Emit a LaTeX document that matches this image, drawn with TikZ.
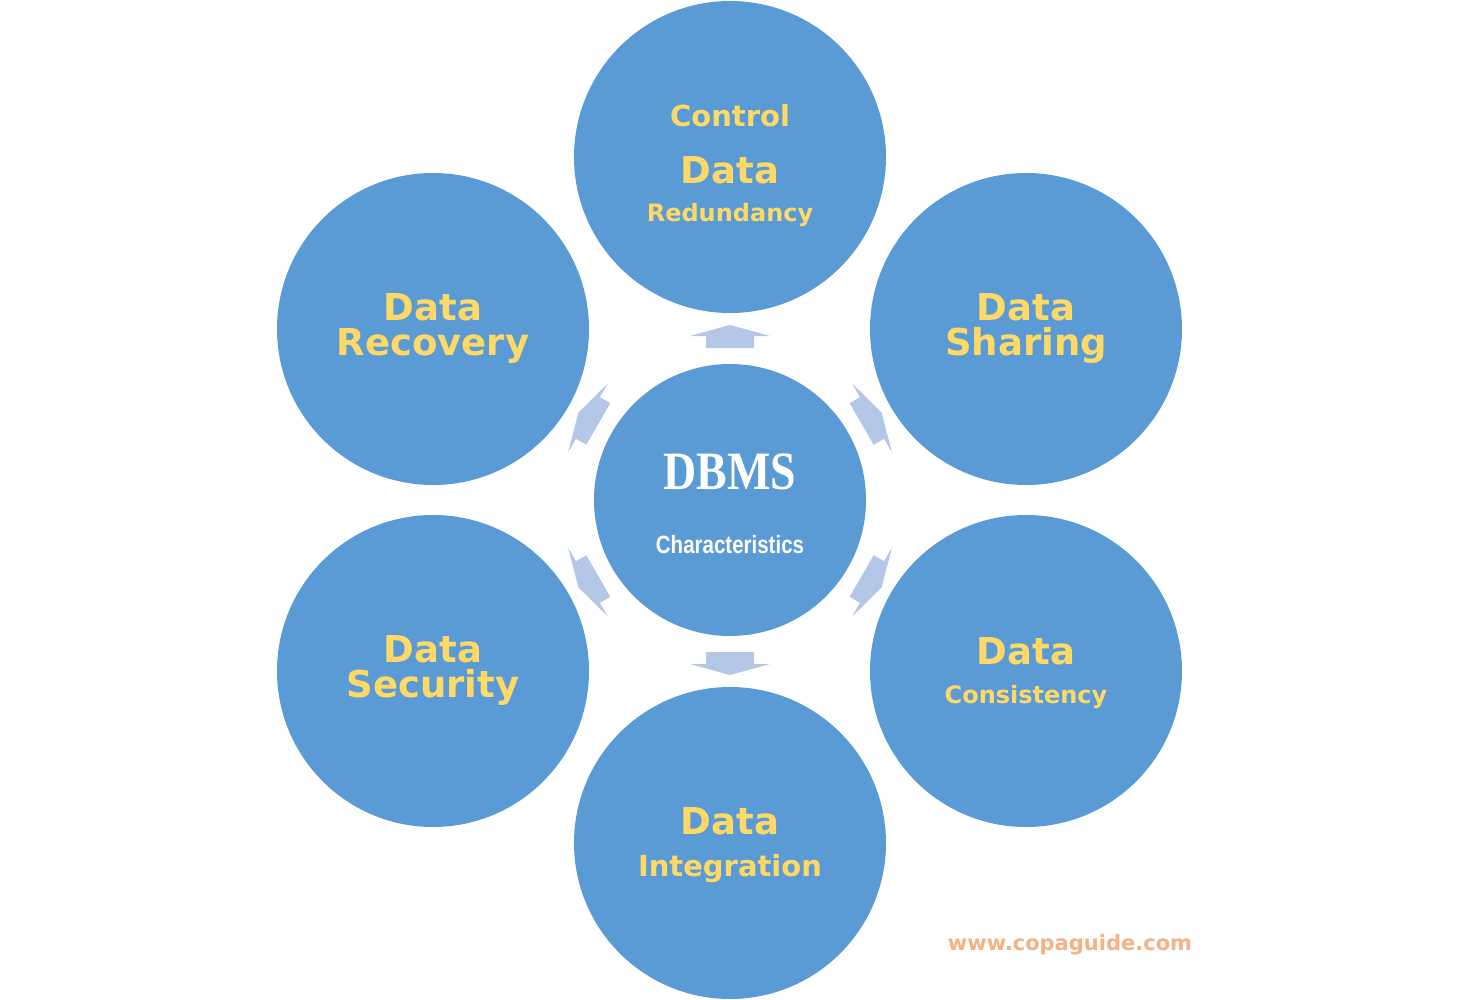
\documentclass[tikz,border=0pt]{standalone}
\usepackage{fontspec}
\setmainfont{DejaVu Sans}
\newfontfamily\serifb{Liberation Serif}
\newfontfamily\narrow{Liberation Sans}
\definecolor{circ}{HTML}{5B9BD5}
\definecolor{ytxt}{HTML}{FFD966}
\definecolor{arr}{HTML}{B4C7E7}
\definecolor{url}{HTML}{F4B183}
\begin{document}
\begin{tikzpicture}[x=1pt,y=-1pt,
  outer/.style={circle,fill=circ,minimum size=312pt,inner sep=0pt,text=ytxt,font=\bfseries,align=center},
  blockarrow/.style={fill=arr}]
\useasboundingbox (0,0) rectangle (1459,1000);
\node[circle,fill=circ,minimum size=272pt,inner sep=0pt] (c) at (730,500) {};
\node[text=white,font=\serifb\bfseries\fontsize{54}{54}\selectfont] (dbms) at (730,472) {\scalebox{0.85}[1]{DBMS}};
\node[text=white,font=\narrow\bfseries\fontsize{25}{25}\selectfont] (ch) at (730,545) {\scalebox{0.82}[1]{Characteristics}};
\node[outer] (t) at (730,157) {};
\node[outer] (ur) at (1026,329) {};
\node[outer] (lr) at (1026,671) {};
\node[outer] (b) at (730,843) {};
\node[outer] (ll) at (433,671) {};
\node[outer] (ul) at (433,329) {};
\node[text=ytxt,font=\bfseries\fontsize{29}{29}\selectfont] (t1) at (730,116) {Control};
\node[text=ytxt,font=\bfseries\fontsize{37}{37}\selectfont] (t2) at (730,170) {Data};
\node[text=ytxt,font=\bfseries\fontsize{24}{24}\selectfont] (t3) at (730,215) {Redundancy};
\node[text=ytxt,font=\bfseries\fontsize{37}{37}\selectfont,align=center] (ur1) at (1026,329) {Data\\[-2pt]Sharing};
\node[text=ytxt,font=\bfseries\fontsize{37}{37}\selectfont,align=center] (ul1) at (433,329) {Data\\[-2pt]Recovery};
\node[text=ytxt,font=\bfseries\fontsize{37}{37}\selectfont,align=center] (ll1) at (433,671) {Data\\[-2pt]Security};
\node[text=ytxt,font=\bfseries\fontsize{37}{37}\selectfont] (lr1) at (1026,651) {Data};
\node[text=ytxt,font=\bfseries\fontsize{24}{24}\selectfont] (lr2) at (1026,697) {Consistency};
\node[text=ytxt,font=\bfseries\fontsize{37}{37}\selectfont] (b1) at (730,821) {Data};
\node[text=ytxt,font=\bfseries\fontsize{29}{29}\selectfont] (b2) at (730,869) {Integration};
\node[text=url,font=\bfseries\fontsize{21}{21}\selectfont] (u) at (1070,945) {www.copaguide.com};
\foreach \a in {90,30,-30,-90,-150,150}{
  \fill[arr,shift={(730,500)},rotate=-\a+90]
    (-24,-152) -- (-24,-164) -- (-40,-164) -- (0,-175) -- (40,-164) -- (24,-164) -- (24,-152) -- cycle;
}
\end{tikzpicture}
\end{document}
